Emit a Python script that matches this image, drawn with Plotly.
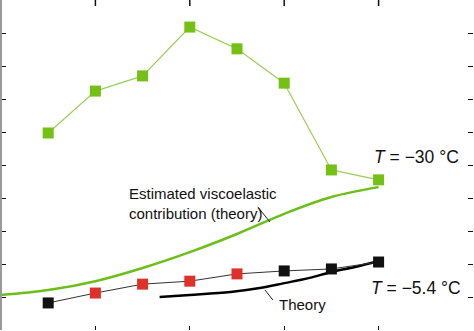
import plotly.graph_objects as go

# Measured series (x in tick units, y in tick units)
x_pts = [0.5, 1, 1.5, 2, 2.5, 3, 3.5, 4]
green_y = [5.97, 7.24, 7.70, 9.18, 8.52, 7.48, 4.85, 4.55]
low_y = [0.82, 1.12, 1.39, 1.48, 1.70, 1.79, 1.85, 2.06]
low_colors = ["#111111", "#e0302a", "#e0302a", "#e0302a", "#e0302a", "#111111", "#111111", "#111111"]

visco_x = [0, 0.5, 1, 1.5, 2, 2.5, 3, 3.5, 4]
visco_y = [1.06, 1.21, 1.48, 1.88, 2.36, 2.91, 3.52, 4.03, 4.33]

theory_x = [1.68, 2.0, 2.43, 2.74, 3.0, 3.27, 3.5, 3.75, 4.0]
theory_y = [1.0, 1.06, 1.15, 1.27, 1.42, 1.58, 1.76, 1.91, 2.09]

x_ticks = [1, 2, 3, 4]
y_ticks = [1, 2, 3, 4, 5, 6, 7, 8, 9]

X_RANGE = [0, 5]
Y_RANGE = [0, 10]
FONT = "Liberation Sans, Arial, Helvetica, sans-serif"

fig = go.Figure()
fig.add_trace(go.Scatter(x=visco_x, y=visco_y, mode="lines",
                         line=dict(color="#6cbf1a", width=2.5, shape="spline"),
                         hoverinfo="skip"))
fig.add_trace(go.Scatter(x=theory_x, y=theory_y, mode="lines",
                         line=dict(color="#000000", width=2.5, shape="spline"),
                         hoverinfo="skip"))
fig.add_trace(go.Scatter(x=x_pts, y=green_y, mode="lines+markers",
                         line=dict(color="#9ccf5a", width=1.2),
                         marker=dict(symbol="square", size=11, color="#74c014")))
fig.add_trace(go.Scatter(x=x_pts, y=low_y, mode="lines+markers",
                         line=dict(color="#333333", width=1),
                         marker=dict(symbol="square", size=11, color=low_colors)))

small = dict(family=FONT, size=15, color="#111111")
big = dict(family=FONT, size=17.5, color="#111111")
fig.add_annotation(x=1.335, y=3.83, xref="x", yref="y", xanchor="left", yanchor="middle",
                   align="left", showarrow=False, font=small,
                   text="Estimated viscoelastic<br>contribution (theory)")
fig.add_annotation(x=2.92, y=0.76, xref="x", yref="y", xanchor="left", yanchor="middle",
                   showarrow=False, font=small, text="Theory")
fig.add_annotation(x=3.93, y=5.24, xref="x", yref="y", xanchor="left", yanchor="middle",
                   showarrow=False, font=big, text="<i>T</i> = \u221230 \u00b0C")
fig.add_annotation(x=3.90, y=1.27, xref="x", yref="y", xanchor="left", yanchor="middle",
                   showarrow=False, font=big, text="<i>T</i> = \u22125.4 \u00b0C")

fig.add_shape(type="line", xref="x", yref="y", x0=2.72, y0=3.73, x1=2.85, y1=3.27,
              line=dict(color="#222222", width=1))
fig.add_shape(type="line", xref="x", yref="y", x0=2.797, y0=1.21, x1=2.88, y1=0.91,
              line=dict(color="#222222", width=1))
fig.add_shape(type="line", xref="paper", yref="paper", x0=0, y0=0, x1=0, y1=1,
              line=dict(color="#999999", width=2))
# top-edge tick marks (mirror of the bottom x ticks), drawn inside from the top edge
for tv in x_ticks:
    px = (tv - X_RANGE[0]) / (X_RANGE[1] - X_RANGE[0])
    fig.add_shape(type="line", xref="paper", yref="paper", x0=px, x1=px,
                  y0=1.0, y1=1.0 - 6 / 330, line=dict(color="#111111", width=1.5))

axis_common = dict(showticklabels=False, tickcolor="#111111",
                   showline=False, showgrid=False, zeroline=False, fixedrange=True)
fig.update_layout(
    width=474, height=331,
    margin=dict(l=1, r=1, t=0, b=1),
    paper_bgcolor="white", plot_bgcolor="white",
    showlegend=False,
    xaxis=dict(range=X_RANGE, tickvals=x_ticks, ticks="inside", ticklen=4, **axis_common),
    yaxis=dict(range=Y_RANGE, tickvals=y_ticks, ticks="inside", ticklen=5,
               mirror="ticks", **axis_common),
)

fig.write_html("out.html", config={"displayModeBar": False})
